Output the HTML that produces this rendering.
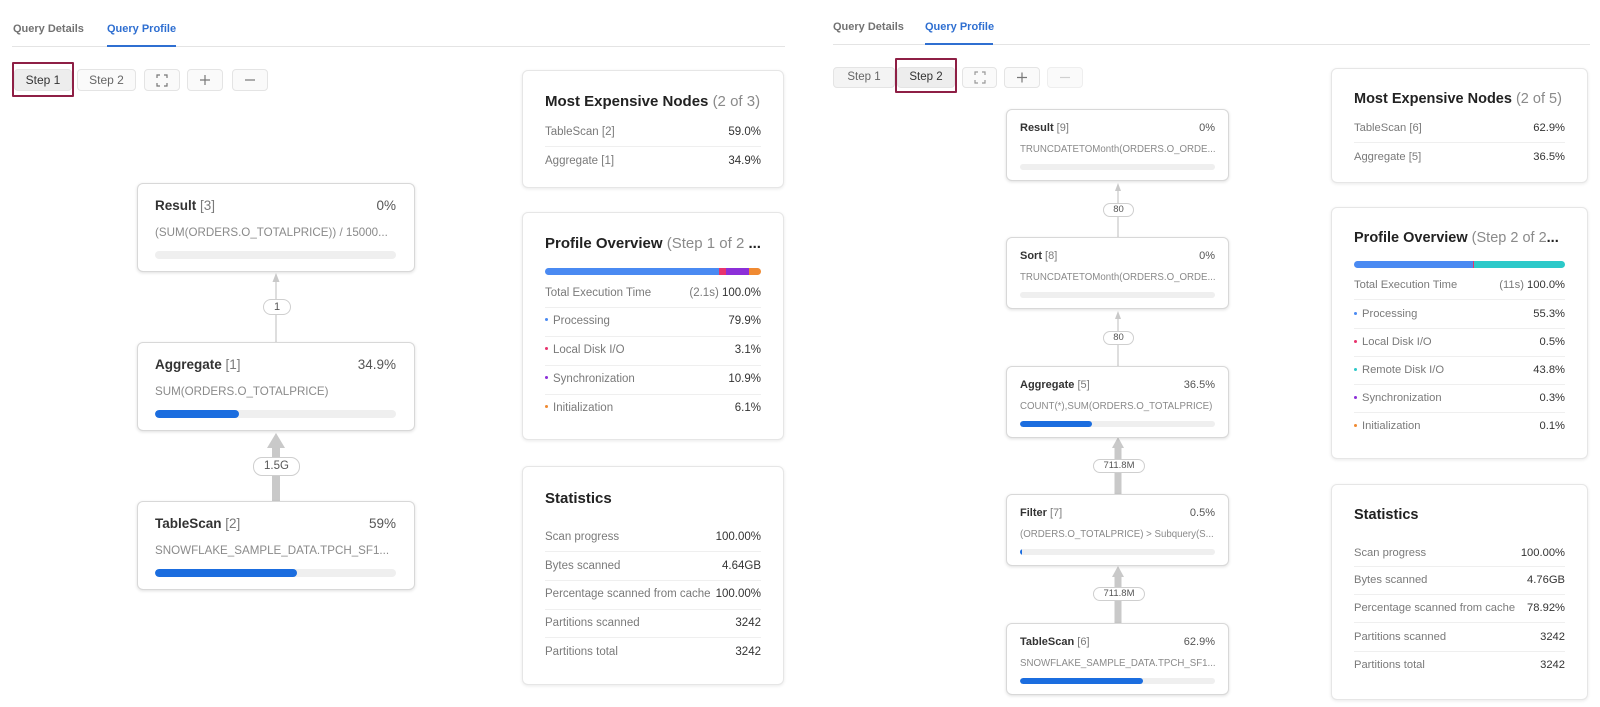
<!DOCTYPE html>
<html><head><meta charset="utf-8">
<style>
*{margin:0;padding:0;box-sizing:border-box}
html,body{width:1600px;height:707px;background:#fff;overflow:hidden;font-family:"Liberation Sans",Arial,sans-serif;color:#333}
.a{position:absolute;white-space:nowrap}
.tab{position:absolute;font-size:11px;font-weight:bold;line-height:14px;color:#727272}
.tab.on{color:#2f6fd1}
.btn{position:absolute;border:1px solid #e4e4e4;border-radius:4px;background:#fafafa;text-align:center;font-size:12px;color:#666}
.btn.sel{background:#ededed;color:#333}
.red{position:absolute;border:2px solid #8e1f45;border-radius:1px}
.node{position:absolute;border:1px solid #d8d8d8;border-radius:6px;background:#fff;box-shadow:0 1px 3px rgba(0,0,0,.13)}
.node .tt{position:absolute;white-space:nowrap;font-weight:bold;color:#333}
.node .tt span{font-weight:normal;color:#7a7a7a}
.node .pc{position:absolute;white-space:nowrap;color:#555}
.node .sb{position:absolute;white-space:nowrap;color:#8a8a8a}
.node .tr{position:absolute;background:#efefef;border-radius:4px;overflow:hidden}
.node .fl{position:absolute;left:0;top:0;bottom:0;background:#1b6ddf;border-radius:4px}
.L .tt,.L .pc{font-size:13.5px;line-height:16px;height:16px;top:14px}
.L .tt{left:17px}.L .pc{right:18px}
.L .sb{font-size:11.6px;line-height:16px;top:41px;left:17px}
.L .tr{left:17px;right:18px;top:67px;height:8px}
.R .tt,.R .pc{font-size:11px;line-height:14px;top:11px}
.R .tt{left:13px}.R .pc{right:13px}
.R .sb{font-size:9.7px;line-height:14px;top:33px;left:13px}
.R .tr{left:13px;right:13px;top:54px;height:6px}
.pill{position:absolute;border:1px solid #cfcfcf;border-radius:9px;background:#fff;color:#555;display:flex;align-items:center;justify-content:center;line-height:1}
.card{position:absolute;border:1px solid #e6e6e6;border-radius:6px;background:#fff;box-shadow:0 1px 3px rgba(0,0,0,.09)}
.card .h{position:absolute;left:22px;white-space:nowrap;font-weight:bold;color:#222;line-height:20px}
.card .h span{font-weight:normal;color:#8a8a8a}
.card .k{position:absolute;left:22px;white-space:nowrap;color:#7a7a7a;line-height:16px}
.card .v{position:absolute;right:22px;white-space:nowrap;color:#333;line-height:16px}
.card .v span{color:#7a7a7a}
.card .s{position:absolute;left:22px;right:22px;height:1px;background:#efefef}
.cl .h{font-size:15px}.cl .k,.cl .v{font-size:11.5px}
.cr .h{font-size:14.5px}.cr .k,.cr .v{font-size:11.2px}
.dot{display:inline-block;width:3px;height:3px;border-radius:50%;vertical-align:middle;margin-right:5px;position:relative;top:-1px}
.bar{position:absolute;left:22px;right:22px;height:7px;border-radius:4px;overflow:hidden;display:flex}
</style></head><body>

<!-- ============ LEFT PANEL ============ -->
<div class="tab" style="left:13px;top:22px">Query Details</div>
<div class="tab on" style="left:107px;top:22px">Query Profile</div>
<div class="a" style="left:12px;top:46px;width:773px;height:1px;background:#e4e4e4"></div>
<div class="a" style="left:107px;top:45px;width:69px;height:2px;background:#2f6fd1"></div>

<div class="btn sel" style="left:14px;top:69px;width:58px;height:22px;line-height:20px">Step 1</div>
<div class="red" style="left:12px;top:62px;width:62px;height:35px"></div>
<div class="btn" style="left:77px;top:69px;width:59px;height:22px;line-height:20px">Step 2</div>
<div class="btn" style="left:144px;top:69px;width:36px;height:22px"></div>
<div class="btn" style="left:187px;top:69px;width:36px;height:22px"></div>
<div class="btn" style="left:232px;top:69px;width:36px;height:22px"></div>

<!-- ============ RIGHT PANEL ============ -->
<div class="tab" style="left:833px;top:20px">Query Details</div>
<div class="tab on" style="left:925px;top:20px">Query Profile</div>
<div class="a" style="left:833px;top:44px;width:757px;height:1px;background:#e4e4e4"></div>
<div class="a" style="left:925px;top:43px;width:68px;height:2px;background:#2f6fd1"></div>

<div class="btn" style="left:833px;top:67px;width:62px;height:21px;line-height:19px;background:#f4f4f4;font-size:11.5px">Step 1</div>
<div class="btn sel" style="left:897px;top:67px;width:58px;height:21px;line-height:19px;font-size:11.5px">Step 2</div>
<div class="red" style="left:895px;top:58px;width:62px;height:35px"></div>
<div class="btn" style="left:962px;top:67px;width:35px;height:21px"></div>
<div class="btn" style="left:1004px;top:67px;width:36px;height:21px"></div>
<div class="btn" style="left:1047px;top:67px;width:36px;height:21px;border-color:#eeeeee"></div>

<!-- icons + connectors -->
<svg class="a" style="left:0;top:0" width="1600" height="707" viewBox="0 0 1600 707">
  <g fill="none" stroke="#777" stroke-width="1.2">
    <path d="M157 78v-3h3M167 78v-3h-3M157 83v3h3M167 83v3h-3"/>
    <path d="M200 80h10M205 75v10"/>
    <path d="M245 80h10"/>
    <path d="M975 75v-3h3M985 75v-3h-3M975 80v3h3M985 80v3h-3" stroke="#999"/>
    <path d="M1017 77.5h10M1022 72.5v10"/>
    <path d="M1060 77.5h10" stroke="#d0d0d0"/>
  </g>
  <g fill="#c9c9c9" stroke="none">
    <rect x="275.4" y="280" width="1.2" height="63"/>
    <polygon points="276,273 272.5,282 279.5,282"/>
    <rect x="272" y="446" width="8" height="56"/>
    <polygon points="276,433 267,448 285,448"/>

    <rect x="1117.4" y="188" width="1.2" height="50"/>
    <polygon points="1118,183 1115,191 1121,191"/>
    <rect x="1117.4" y="316" width="1.2" height="51"/>
    <polygon points="1118,311 1115,319 1121,319"/>
    <rect x="1114.5" y="446" width="7" height="49"/>
    <polygon points="1118,437 1112,448 1124,448"/>
    <rect x="1114.5" y="575" width="7" height="49"/>
    <polygon points="1118,566 1112,577 1124,577"/>
  </g>
</svg>

<!-- LEFT nodes -->
<div class="node L" style="left:137px;top:183px;width:278px;height:89px">
  <div class="tt">Result<span> [3]</span></div><div class="pc">0%</div>
  <div class="sb">(SUM(ORDERS.O_TOTALPRICE)) / 15000...</div>
  <div class="tr"></div>
</div>
<div class="node L" style="left:137px;top:342px;width:278px;height:89px">
  <div class="tt">Aggregate<span> [1]</span></div><div class="pc">34.9%</div>
  <div class="sb">SUM(ORDERS.O_TOTALPRICE)</div>
  <div class="tr"><div class="fl" style="width:84px"></div></div>
</div>
<div class="node L" style="left:137px;top:501px;width:278px;height:89px">
  <div class="tt">TableScan<span> [2]</span></div><div class="pc">59%</div>
  <div class="sb">SNOWFLAKE_SAMPLE_DATA.TPCH_SF1...</div>
  <div class="tr"><div class="fl" style="width:142px"></div></div>
</div>
<div class="pill" style="left:263px;top:299px;width:28px;height:16px;font-size:11px">1</div>
<div class="pill" style="left:253px;top:457px;width:47px;height:19px;font-size:11.5px">1.5G</div>

<!-- RIGHT nodes -->
<div class="node R" style="left:1006px;top:109px;width:223px;height:72px">
  <div class="tt">Result<span> [9]</span></div><div class="pc">0%</div>
  <div class="sb">TRUNCDATETOMonth(ORDERS.O_ORDE...</div>
  <div class="tr"></div>
</div>
<div class="node R" style="left:1006px;top:237px;width:223px;height:72px">
  <div class="tt">Sort<span> [8]</span></div><div class="pc">0%</div>
  <div class="sb">TRUNCDATETOMonth(ORDERS.O_ORDE...</div>
  <div class="tr"></div>
</div>
<div class="node R" style="left:1006px;top:366px;width:223px;height:72px">
  <div class="tt">Aggregate<span> [5]</span></div><div class="pc">36.5%</div>
  <div class="sb">COUNT(*),SUM(ORDERS.O_TOTALPRICE)</div>
  <div class="tr"><div class="fl" style="width:72px"></div></div>
</div>
<div class="node R" style="left:1006px;top:494px;width:223px;height:72px">
  <div class="tt">Filter<span> [7]</span></div><div class="pc">0.5%</div>
  <div class="sb">(ORDERS.O_TOTALPRICE) &gt; Subquery(S...</div>
  <div class="tr"><div class="fl" style="width:2px"></div></div>
</div>
<div class="node R" style="left:1006px;top:623px;width:223px;height:72px">
  <div class="tt">TableScan<span> [6]</span></div><div class="pc">62.9%</div>
  <div class="sb">SNOWFLAKE_SAMPLE_DATA.TPCH_SF1...</div>
  <div class="tr"><div class="fl" style="width:123px"></div></div>
</div>
<div class="pill" style="left:1103px;top:203px;width:31px;height:14px;font-size:9.5px">80</div>
<div class="pill" style="left:1103px;top:331px;width:31px;height:14px;font-size:9.5px">80</div>
<div class="pill" style="left:1093px;top:459px;width:52px;height:14px;font-size:9.5px">711.8M</div>
<div class="pill" style="left:1093px;top:587px;width:52px;height:14px;font-size:9.5px">711.8M</div>

<!-- LEFT cards -->
<div class="card cl" style="left:522px;top:70px;width:262px;height:118px">
  <div class="h" style="top:21px">Most Expensive Nodes <span>(2 of 3)</span></div>
  <div class="k" style="top:53px">TableScan [2]</div><div class="v" style="top:53px">59.0%</div>
  <div class="s" style="top:75px"></div>
  <div class="k" style="top:82px">Aggregate [1]</div><div class="v" style="top:82px">34.9%</div>
</div>
<div class="card cl" style="left:522px;top:212px;width:262px;height:228px">
  <div class="h" style="top:21px">Profile Overview <span>(Step 1 of 2 </span>...</div>
  <div class="bar" style="top:55px"><div style="width:174px;background:#4a8af2"></div><div style="width:7px;background:#e8336d"></div><div style="width:23px;background:#8c2fd8"></div><div style="flex:1;background:#f08a32"></div></div>
  <div class="k" style="top:72px">Total Execution Time</div><div class="v" style="top:72px"><span>(2.1s)</span> 100.0%</div>
  <div class="s" style="top:94px"></div>
  <div class="k" style="top:100px"><i class="dot" style="background:#4a8af2"></i>Processing</div><div class="v" style="top:100px">79.9%</div>
  <div class="s" style="top:123px"></div>
  <div class="k" style="top:129px"><i class="dot" style="background:#e8336d"></i>Local Disk I/O</div><div class="v" style="top:129px">3.1%</div>
  <div class="s" style="top:152px"></div>
  <div class="k" style="top:158px"><i class="dot" style="background:#8c2fd8"></i>Synchronization</div><div class="v" style="top:158px">10.9%</div>
  <div class="s" style="top:181px"></div>
  <div class="k" style="top:187px"><i class="dot" style="background:#f08a32"></i>Initialization</div><div class="v" style="top:187px">6.1%</div>
</div>
<div class="card cl" style="left:522px;top:466px;width:262px;height:219px">
  <div class="h" style="top:22px">Statistics</div>
  <div class="k" style="top:62px">Scan progress</div><div class="v" style="top:62px">100.00%</div>
  <div class="s" style="top:84px"></div>
  <div class="k" style="top:91px">Bytes scanned</div><div class="v" style="top:91px">4.64GB</div>
  <div class="s" style="top:113px"></div>
  <div class="k" style="top:119px">Percentage scanned from cache</div><div class="v" style="top:119px">100.00%</div>
  <div class="s" style="top:142px"></div>
  <div class="k" style="top:148px">Partitions scanned</div><div class="v" style="top:148px">3242</div>
  <div class="s" style="top:170px"></div>
  <div class="k" style="top:177px">Partitions total</div><div class="v" style="top:177px">3242</div>
</div>

<!-- RIGHT cards -->
<div class="card cr" style="left:1331px;top:68px;width:257px;height:115px">
  <div class="h" style="top:20px">Most Expensive Nodes <span>(2 of 5)</span></div>
  <div class="k" style="top:51px">TableScan [6]</div><div class="v" style="top:51px">62.9%</div>
  <div class="s" style="top:73px"></div>
  <div class="k" style="top:80px">Aggregate [5]</div><div class="v" style="top:80px">36.5%</div>
</div>
<div class="card cr" style="left:1331px;top:207px;width:257px;height:252px">
  <div class="h" style="top:20px">Profile Overview <span>(Step 2 of 2</span>...</div>
  <div class="bar" style="top:53px"><div style="width:119px;background:#4a8af2"></div><div style="width:1px;background:#e8336d"></div><div style="flex:1;background:#2cc9c9"></div></div>
  <div class="k" style="top:69px">Total Execution Time</div><div class="v" style="top:69px"><span>(11s)</span> 100.0%</div>
  <div class="s" style="top:91px"></div>
  <div class="k" style="top:98px"><i class="dot" style="background:#4a8af2"></i>Processing</div><div class="v" style="top:98px">55.3%</div>
  <div class="s" style="top:120px"></div>
  <div class="k" style="top:126px"><i class="dot" style="background:#e8336d"></i>Local Disk I/O</div><div class="v" style="top:126px">0.5%</div>
  <div class="s" style="top:148px"></div>
  <div class="k" style="top:154px"><i class="dot" style="background:#2cc9c9"></i>Remote Disk I/O</div><div class="v" style="top:154px">43.8%</div>
  <div class="s" style="top:176px"></div>
  <div class="k" style="top:182px"><i class="dot" style="background:#8c2fd8"></i>Synchronization</div><div class="v" style="top:182px">0.3%</div>
  <div class="s" style="top:204px"></div>
  <div class="k" style="top:210px"><i class="dot" style="background:#f08a32"></i>Initialization</div><div class="v" style="top:210px">0.1%</div>
</div>
<div class="card cr" style="left:1331px;top:484px;width:257px;height:216px">
  <div class="h" style="top:20px">Statistics</div>
  <div class="k" style="top:60px">Scan progress</div><div class="v" style="top:60px">100.00%</div>
  <div class="s" style="top:81px"></div>
  <div class="k" style="top:87px">Bytes scanned</div><div class="v" style="top:87px">4.76GB</div>
  <div class="s" style="top:109px"></div>
  <div class="k" style="top:115px">Percentage scanned from cache</div><div class="v" style="top:115px">78.92%</div>
  <div class="s" style="top:137px"></div>
  <div class="k" style="top:144px">Partitions scanned</div><div class="v" style="top:144px">3242</div>
  <div class="s" style="top:166px"></div>
  <div class="k" style="top:172px">Partitions total</div><div class="v" style="top:172px">3242</div>
</div>

</body></html>
